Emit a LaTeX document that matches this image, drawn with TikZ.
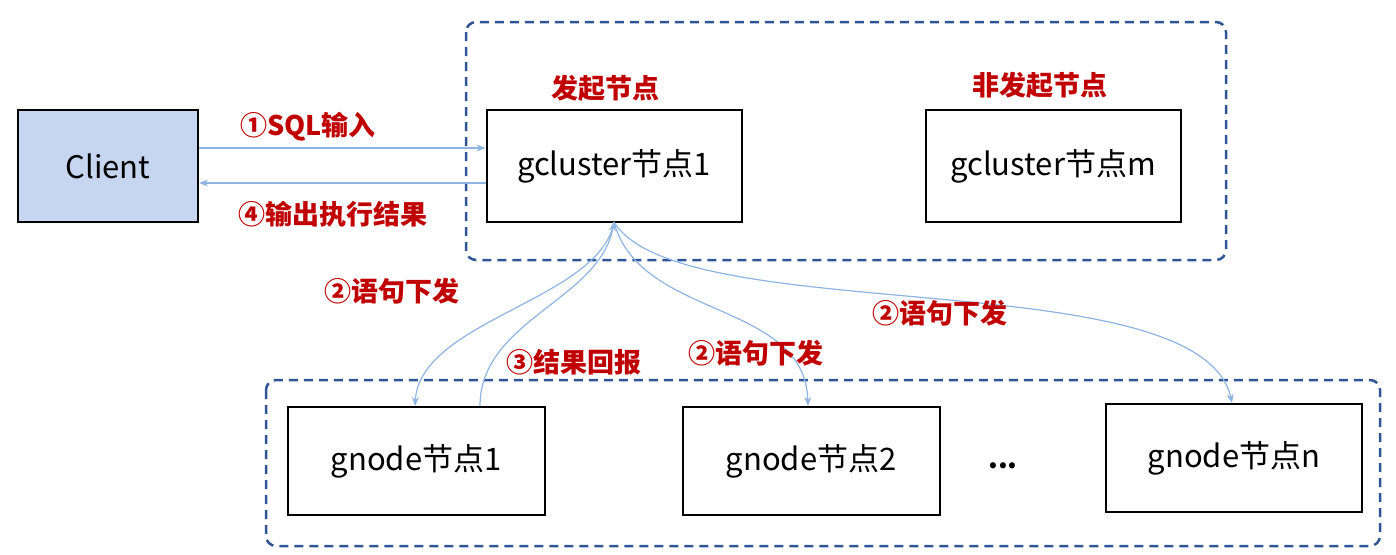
\documentclass[tikz,border=0pt]{standalone}
\usepackage{fontspec}
\setmainfont{Noto Sans CJK SC}
\usetikzlibrary{positioning,arrows.meta}
\definecolor{boxblue}{HTML}{C6D6F0}
\definecolor{dashblue}{HTML}{2F5597}
\definecolor{linkblue}{HTML}{8EB4E3}
\definecolor{labelred}{HTML}{C00000}
\tikzset{
  mybox/.style={draw,line width=2pt,minimum width=255pt,minimum height=110pt,font=\fontsize{31}{31}\selectfont},
  mygroup/.style={draw=dashblue,line width=2.5pt,dash pattern=on 9pt off 6pt,rounded corners=10pt},
  mylabel/.style={text=labelred,font=\fontsize{27}{27}\selectfont\bfseries},
  mylink/.style={linkblue,line width=1.2pt,-{Stealth[length=9pt,width=7pt]}}
}
\begin{document}
\begin{tikzpicture}[x=1pt,y=-1pt]
  \useasboundingbox (0,0) rectangle (1396,554);

  \draw[mygroup] (466,22) rectangle (1226,260);
  \draw[mygroup] (266,380) rectangle (1380,546);

  \node(client)[mybox,fill=boxblue,minimum width=180pt,minimum height=112pt] at (108,166){Client};
  \node(gc1)[mybox,minimum height=112pt] at (614,166){gcluster节点1};
  \node(gcm)[mybox,minimum height=112pt] at (1053,166){gcluster节点m};

  \node(gn1)[mybox,minimum width=257pt,minimum height=108pt] at (416,461){gnode节点1};
  \node(gn2)[mybox,minimum width=257pt,minimum height=108pt] at (811,461){gnode节点2};
  \node(gnn)[mybox,minimum width=256pt,minimum height=108pt] at (1234,458){gnode节点n};
  \node(dots)[font=\fontsize{28}{28}\selectfont\bfseries] at (1003,466){...};

  \node[mylabel] at (605,88){发起节点};
  \node[mylabel] at (1040,85){非发起节点};

  \coordinate(gcbot) at (614,222);
  \draw[mylink] (client.east|-0,148) -- (gc1.west|-0,148);
  \draw[mylink] (gc1.west|-0,183) -- (client.east|-0,183);
  \node[mylabel] at (308,127){①SQL输入};
  \node[mylabel] at (333,214){④输出执行结果};

  \draw[mylink] (gcbot) .. controls (600,300) and (420,320) .. (gn1.north-|415,0);
  \draw[mylink] (gn1.north-|480,0) .. controls (480,320) and (600,300) .. (gcbot);
  \draw[mylink] (gcbot) .. controls (640,320) and (805,300) .. (gn2.north-|808,0);
  \draw[mylink] (gcbot) .. controls (680,330) and (1200,260) .. (gnn.north-|1232,0);

  \node[mylabel] at (392,291){②语句下发};
  \node[mylabel] at (574,362){③结果回报};
  \node[mylabel] at (756,353){②语句下发};
  \node[mylabel] at (940,313){②语句下发};
\end{tikzpicture}
\end{document}
